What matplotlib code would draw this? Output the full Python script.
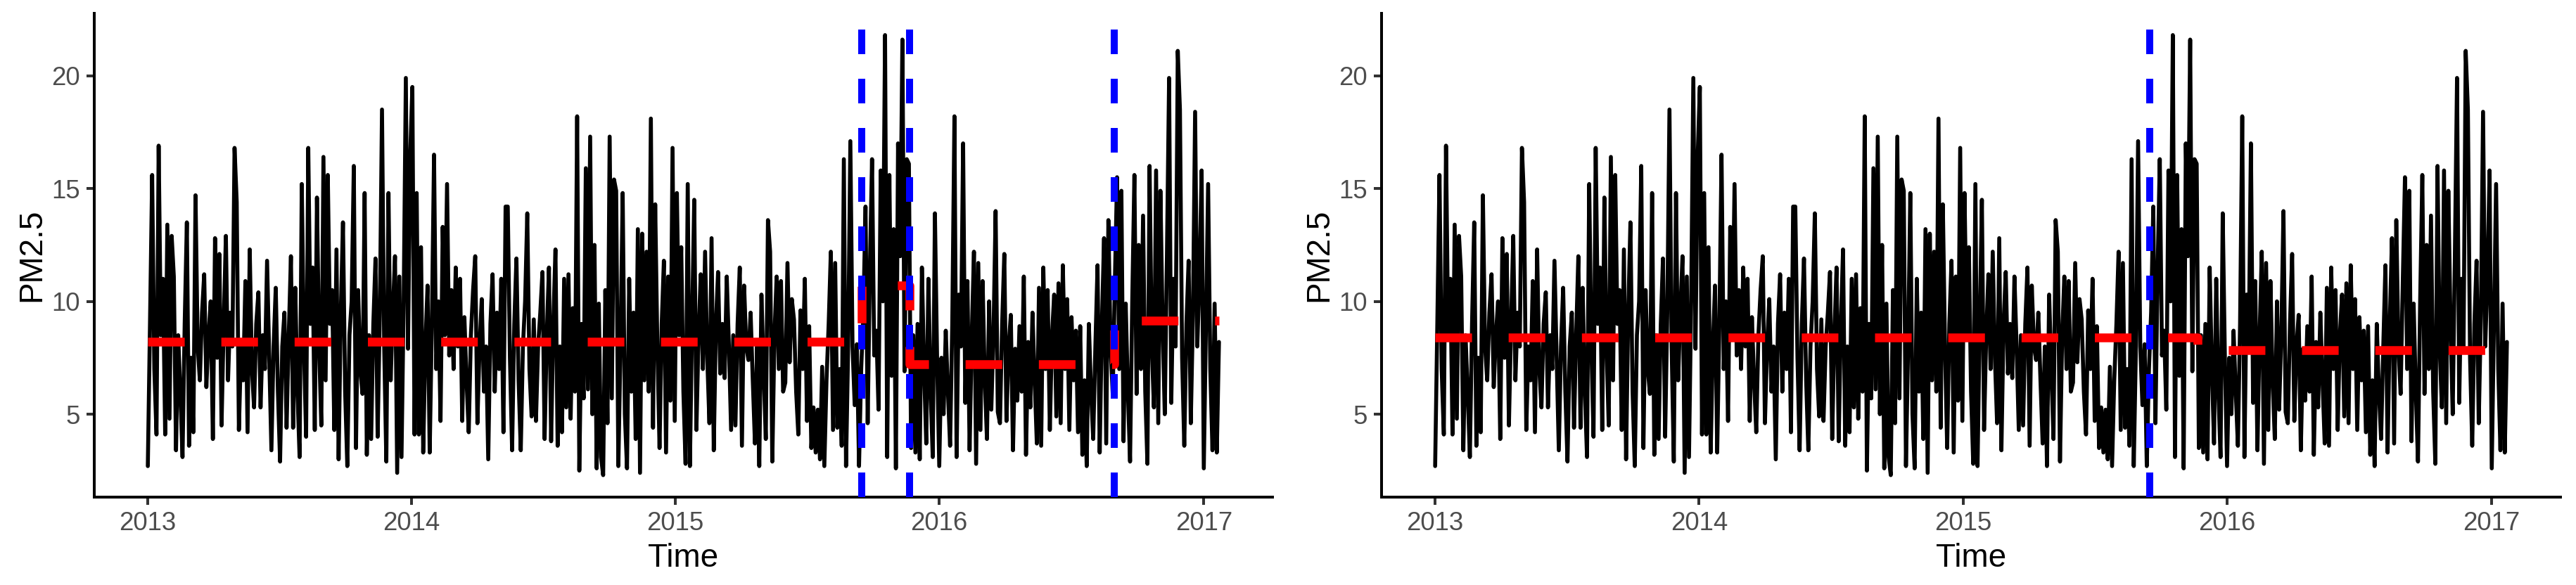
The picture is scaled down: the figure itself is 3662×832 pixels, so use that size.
import numpy as np
import matplotlib
matplotlib.use('Agg')
import matplotlib.pyplot as plt
import matplotlib.dates as mdates

plt.rcParams['font.family'] = ['Liberation Sans', 'DejaVu Sans']
plt.rcParams['lines.scale_dashes'] = False

start_date = np.datetime64('2013-01-01')
step_days = 3
pm25 = [
    # 2013
    2.7, 9.0, 15.6, 7.0, 4.1, 16.9, 8.5, 11.0, 4.1, 13.4,
    4.8, 12.9, 11.1, 3.4, 8.5, 6.0, 3.1, 9.0, 13.5, 3.6,
    7.5, 4.2, 14.7, 8.0, 6.5, 9.5, 11.2, 6.2, 8.5, 10.0,
    3.9, 12.8, 7.5, 12.1, 4.5, 9.0, 12.9, 6.5, 9.5, 8.0,
    16.8, 14.4, 4.3, 8.0, 6.5, 10.9, 4.2, 12.3, 7.0, 5.3,
    9.0, 10.4, 5.3, 8.5, 7.0, 11.8, 7.5, 3.4, 8.0, 10.6,
    6.0, 2.9, 8.0, 9.5, 4.4, 8.5, 12.0, 4.4, 10.6, 6.0,
    3.1, 15.2, 8.0, 4.0, 16.8, 9.0, 11.5, 4.3, 14.6, 8.0,
    4.5, 16.4, 6.5, 15.6, 9.0, 10.5, 4.3, 12.3, 3.0, 9.5,
    13.5, 6.0, 2.7, 8.5, 10.0, 16.0, 3.5, 10.5, 7.0,
    # late 2013 - mid 2014
    5.9, 14.8, 3.2, 8.5, 3.9, 9.0, 11.9, 4.0, 9.5, 18.5,
    8.0, 2.9, 14.8, 6.5, 9.5, 12.0, 2.4, 11.1, 3.1, 10.0,
    19.9, 7.9, 16.4, 19.5, 4.1, 14.8, 4.1, 12.4, 3.3, 8.0,
    10.7, 3.3, 9.0, 16.5, 7.0, 10.0, 4.7, 13.3, 8.5, 15.2,
    7.6, 10.5, 7.0, 11.5, 8.0, 11.0, 4.7, 9.3, 6.5, 4.2,
    8.5, 10.5, 12.0, 4.6, 8.0, 10.1, 6.0, 8.0, 3.0, 9.0,
    11.2, 6.0, 9.5, 7.0, 11.0, 4.2, 14.2, 14.2, 7.5, 3.4,
    9.0, 11.9, 6.5, 3.4, 8.0, 10.0, 13.9, 7.0, 4.9, 9.2,
    4.7, 8.0, 9.5, 11.3, 3.9, 8.5, 11.5, 3.8, 9.0, 12.3,
    3.6, 8.0, 4.2, 11.0, 5.3, 11.2, 4.8, 9.7, 6.0,
    # late 2014 - mid 2015
    18.2, 2.5, 9.0, 5.7, 15.9, 6.1, 17.3, 5.0, 12.5, 2.6,
    9.9, 3.1, 2.3, 10.5, 4.6, 17.3, 5.7, 15.4, 14.9, 2.7,
    8.0, 14.8, 5.0, 2.6, 11.0, 6.0, 9.5, 3.9, 13.2, 2.4,
    13.0, 6.5, 12.2, 6.0, 18.1, 4.4, 14.3, 8.0, 3.5, 9.0,
    11.8, 3.3, 11.1, 5.6, 16.8, 4.7, 14.8, 8.5, 12.4, 6.0,
    2.8, 15.2, 2.7, 9.0, 14.5, 4.3, 8.5, 11.2, 7.0, 12.2,
    7.5, 4.6, 12.8, 3.4, 9.0, 11.3, 6.8, 9.0, 6.6, 11.1,
    8.0, 4.3, 8.5, 4.5, 9.0, 11.5, 3.6, 10.7, 8.0, 7.4,
    9.5, 6.5, 3.7, 8.0, 2.7, 10.3, 7.0, 3.9, 13.6, 12.2,
    2.9, 8.5, 11.1, 7.0, 10.9, 6.0, 6.4, 11.7, 7.3,
    # mid 2015 - early 2016
    10.1, 9.2, 6.0, 4.1, 9.6, 7.0, 11.0, 4.7, 8.9, 3.5,
    5.3, 3.3, 5.2, 3.0, 7.1, 2.7, 6.5, 9.0, 12.2, 4.3,
    11.7, 4.4, 7.0, 3.6, 16.3, 2.7, 8.0, 17.1, 8.0, 5.4,
    8.1, 2.7, 7.0, 9.5, 14.2, 4.6, 11.4, 16.3, 7.6, 8.7,
    5.2, 15.8, 10.0, 21.8, 3.1, 15.6, 6.7, 13.2, 2.6, 17.0,
    12.0, 21.6, 6.9, 16.3, 16.1, 3.5, 8.5, 3.3, 9.0, 3.0,
    11.5, 7.0, 3.7, 11.0, 6.0, 3.1, 13.9, 7.5, 2.7, 7.5,
    5.0, 8.7, 6.0, 3.6, 9.0, 18.2, 3.1, 10.3, 8.0, 17.0,
    5.5, 10.9, 3.4, 8.5, 12.2, 2.8, 11.7, 4.3, 10.9, 6.5,
    3.9, 10.0, 5.2, 8.5, 14.0, 5.1, 4.6, 9.0, 12.1,
    # 2016 - Jan 2017
    4.7, 8.0, 9.4, 3.4, 7.9, 5.6, 8.9, 6.0, 11.1, 3.2,
    8.2, 5.3, 9.5, 6.5, 3.7, 10.6, 3.6, 11.5, 7.0, 10.5,
    4.3, 8.5, 10.3, 4.9, 10.8, 4.6, 11.6, 7.0, 10.1, 4.3,
    9.3, 6.5, 8.7, 4.2, 8.9, 3.2, 6.5, 2.7, 9.0, 6.0,
    3.9, 8.0, 11.6, 3.3, 9.0, 12.8, 3.7, 13.6, 8.0, 5.9,
    10.9, 15.5, 7.0, 14.9, 3.8, 9.9, 6.0, 2.9, 10.0, 15.6,
    5.9, 12.5, 7.0, 13.8, 6.0, 2.8, 16.0, 8.0, 5.3, 15.8,
    4.6, 14.9, 9.0, 5.0, 12.0, 19.9, 5.5, 11.0, 8.0, 21.1,
    18.5, 7.5, 3.6, 9.0, 11.8, 4.6, 9.4, 18.4, 8.0, 11.0,
    15.8, 2.6, 9.0, 15.2, 7.0, 3.4, 9.9, 3.3, 8.2,
]

# left panel: three changepoints, segment means
cpts_left = ['2015-09-16', '2015-11-21', '2016-08-30']
steps_left = ['2015-09-16', '2015-11-21', '2016-08-30']
means_left = [8.22, 10.71, 7.20, 9.14]

# right panel: one changepoint line, mean shifts once
cpts_right = ['2015-09-16']
steps_right = ['2015-11-21']
means_right = [8.39, 7.85]

dates = start_date + np.arange(len(pm25)) * np.timedelta64(step_days, 'D')
x = mdates.date2num(dates.astype('datetime64[D]').astype(object))
y = np.array(pm25)


def to_num(d):
    return mdates.date2num(np.datetime64(d).astype(object))


def draw_panel(ax, cpts, steps, means):
    ax.plot(x, y, color='black', lw=1.35, solid_joinstyle='round',
            solid_capstyle='round', zorder=2)
    sx = [x[0]] + [to_num(s) for s in steps] + [x[-1]]
    sy = list(means) + [means[-1]]
    ax.step(sx, sy, where='post', color='#FF0000', lw=3.0,
            linestyle=(0, (12.5, 12.5)), dash_capstyle='butt', zorder=3)
    for c in cpts:
        ax.axvline(to_num(c), color='#0000FF', lw=2.4,
                   linestyle=(0, (8.4, 8.4)), dash_capstyle='butt', zorder=4)

    xpad = 0.05 * (x[-1] - x[0])
    ypad = 0.05 * (y.max() - y.min())
    ax.set_xlim(x[0] - xpad, x[-1] + xpad)
    ax.set_ylim(y.min() - ypad, y.max() + ypad)

    ax.xaxis.set_major_locator(mdates.YearLocator())
    ax.xaxis.set_major_formatter(mdates.DateFormatter('%Y'))
    ax.set_yticks([5, 10, 15, 20])

    for side in ['top', 'right']:
        ax.spines[side].set_visible(False)
    for side in ['left', 'bottom']:
        ax.spines[side].set_linewidth(0.96)
        ax.spines[side].set_color('black')
        ax.spines[side].set_capstyle('projecting')
    ax.tick_params(length=2.76, width=0.96, color='#333333',
                   labelcolor='#4D4D4D', labelsize=8.8)
    ax.tick_params(axis='x', pad=2.0)
    ax.tick_params(axis='y', pad=2.0)
    ax.set_xlabel('Time', fontsize=11, labelpad=2.5)
    ax.set_ylabel('PM2.5', fontsize=11, labelpad=1.5)


fig = plt.figure(figsize=(3662 / 300, 832 / 300), dpi=300)
ax1 = fig.add_axes([134 / 3662, 125 / 832, 1675 / 3662, 688.4 / 832])
ax2 = fig.add_axes([1964 / 3662, 125 / 832, 1676 / 3662, 688.4 / 832])

draw_panel(ax1, cpts_left, steps_left, means_left)
draw_panel(ax2, cpts_right, steps_right, means_right)

fig.savefig('out.png', dpi=300)
